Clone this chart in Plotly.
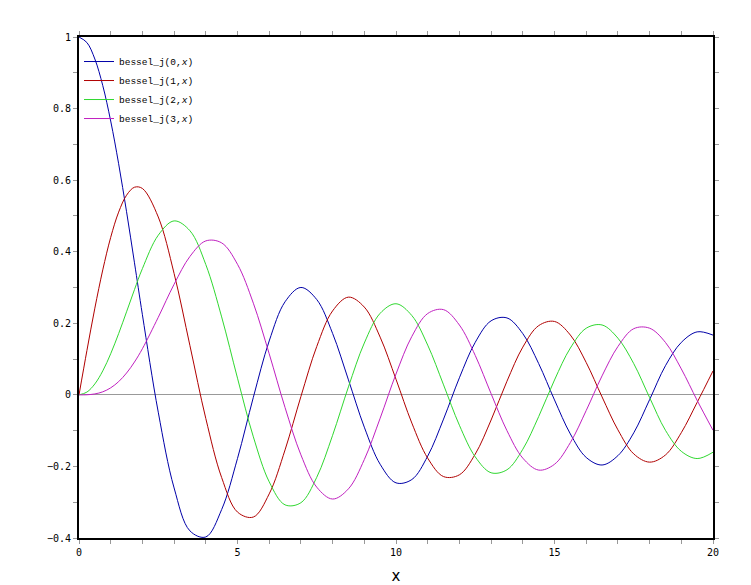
import plotly.graph_objects as go

# sample points (denser near the origin where they bend most)
x = [0, 0.25, 0.5, 0.75, 1, 1.25, 1.5, 1.75, 2, 2.5, 3, 3.5, 4, 4.5,
     5, 5.5, 6, 6.5, 7, 7.5, 8, 8.5, 9, 9.5, 10, 10.5, 11, 11.5, 12, 12.5,
     13, 13.5, 14, 14.5, 15, 15.5, 16, 16.5, 17, 17.5, 18, 18.5, 19, 19.5, 20]

j0 = [1.0, 0.9844, 0.9385, 0.8642, 0.7652, 0.6459, 0.5118, 0.3690, 0.2239, -0.0484,
      -0.2601, -0.3801, -0.3971, -0.3205,
      -0.1776, -0.0068, 0.1506, 0.2601, 0.3001, 0.2663, 0.1717, 0.0419, -0.0903, -0.1939,
      -0.2459, -0.2366, -0.1712, -0.0677, 0.0477, 0.1469, 0.2069, 0.2150, 0.1711, 0.0875,
      -0.0142, -0.1092, -0.1749, -0.1960, -0.1699, -0.1061, -0.0134, 0.0814, 0.1466, 0.1760,
      0.1670]
j1 = [0.0, 0.1240, 0.2423, 0.3492, 0.4401, 0.5106, 0.5579, 0.5802, 0.5767, 0.4971,
      0.3391, 0.1374, -0.0660, -0.2311,
      -0.3276, -0.3414, -0.2767, -0.1538, -0.0047, 0.1352, 0.2346, 0.2731, 0.2453, 0.1613,
      0.0435, -0.0789, -0.1768, -0.2284, -0.2234, -0.1655, -0.0703, 0.0380, 0.1334, 0.1934,
      0.2051, 0.1672, 0.0904, -0.0057, -0.0977, -0.1650, -0.1880, -0.1680, -0.1057, -0.0210,
      0.0668]
j2 = [0.0, 0.0078, 0.0306, 0.0670, 0.1149, 0.1711, 0.2321, 0.2941, 0.3528, 0.4461,
      0.4861, 0.4586, 0.3641, 0.2178,
      0.0466, -0.1173, -0.2429, -0.3074, -0.3014, -0.2303, -0.1130, 0.0223, 0.1448, 0.2279,
      0.2546, 0.2216, 0.1390, 0.0279, -0.0849, -0.1733, -0.2177, -0.2094, -0.1520, -0.0609,
      0.0416, 0.1308, 0.1862, 0.1953, 0.1584, 0.0872, -0.0075, -0.0990, -0.1577, -0.1780,
      -0.1603]
j3 = [0.0, 0.0003, 0.0026, 0.0085, 0.0196, 0.0369, 0.0610, 0.0918, 0.1289, 0.2167,
      0.3091, 0.3868, 0.4302, 0.4247,
      0.3648, 0.2561, 0.1148, -0.0354, -0.1676, -0.2580, -0.2911, -0.2626, -0.1809, -0.0653,
      0.0583, 0.1633, 0.2273, 0.2381, 0.1951, 0.1100, 0.0033, -0.1000, -0.1768, -0.2102,
      -0.1940, -0.1334, -0.0438, 0.0530, 0.1350, 0.1849, 0.1863, 0.1465, 0.0725, -0.0155,
      -0.0989]

names = ["bessel_j(0,<i>x</i>)", "bessel_j(1,<i>x</i>)",
         "bessel_j(2,<i>x</i>)", "bessel_j(3,<i>x</i>)"]
colors = ["#0000a8", "#b00000", "#30d830", "#c020c0"]

fig = go.Figure()
for ys, nm, c in zip([j0, j1, j2, j3], names, colors):
    fig.add_trace(go.Scatter(x=x, y=ys, mode="lines", name=nm,
                             line=dict(color=c, width=1, shape="spline", smoothing=1)))

axis_common = dict(
    showline=True, linecolor="black", linewidth=2, mirror="ticks",
    ticks="outside", ticklen=4, tickcolor="#999999", tickwidth=1,
    showgrid=False,
    tickfont=dict(family="DejaVu Sans Mono", size=10, color="black"),
)

fig.update_xaxes(range=[0, 20], dtick=5, zeroline=False, automargin=False,
                 minor=dict(dtick=1, ticks="outside", ticklen=4, tickcolor="#999999"),
                 title=dict(text="x", font=dict(family="DejaVu Sans", size=15, color="black"),
                            standoff=20),
                 **axis_common)
fig.update_yaxes(range=[-0.4, 1], dtick=0.2, zeroline=True, zerolinecolor="#999999",
                 zerolinewidth=1, automargin=False,
                 minor=dict(dtick=0.1, ticks="outside", ticklen=4, tickcolor="#999999"),
                 **axis_common)

# the page body adds an 8px offset, so the figure is a bit smaller than the window
fig.update_layout(
    width=743, height=577,
    margin=dict(l=71, r=38, t=29, b=47),
    plot_bgcolor="white", paper_bgcolor="white",
    legend=dict(x=0.0, y=0.98, xanchor="left", yanchor="top",
                bgcolor="rgba(0,0,0,0)", itemwidth=30,
                font=dict(family="Liberation Mono", size=9.5, color="black")),
)

fig.write_html("out.html")
